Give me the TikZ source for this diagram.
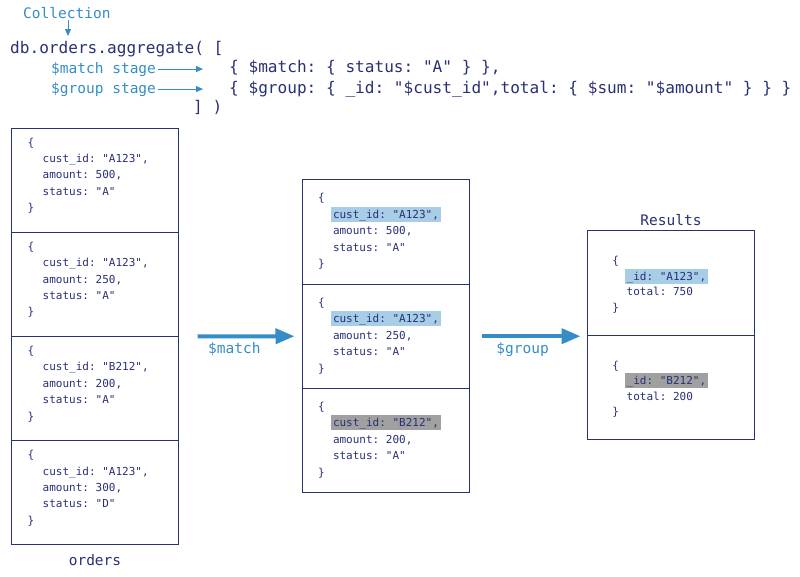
\documentclass[tikz,border=0pt]{standalone}
\usepackage{fontspec}
\setmonofont{DejaVu Sans Mono}
\usetikzlibrary{arrows.meta}
\usetikzlibrary{positioning}

\definecolor{navy}{RGB}{40,48,118}
\definecolor{mblue}{RGB}{52,141,199}
\definecolor{hlblue}{RGB}{168,205,230}
\definecolor{hlgray}{RGB}{160,160,160}

\begin{document}
\begin{tikzpicture}[x=1pt,y=-1pt,>={Triangle[length=7pt,width=6pt]},
  code/.style={font=\ttfamily\fontsize{16.1}{18}\selectfont,text=navy,inner sep=0pt,anchor=base west},
  note/.style={font=\ttfamily\fontsize{14.5}{17}\selectfont,text=mblue,inner sep=0pt,anchor=base west},
  boxtitle/.style={font=\ttfamily\fontsize{14.5}{17}\selectfont,text=navy,inner sep=0pt},
  docbox/.style={draw=navy,line width=1pt,minimum width=167pt,minimum height=104.2pt,inner sep=0pt,outer sep=0pt},
  field/.style={font=\ttfamily\fontsize{11}{13}\selectfont,text=navy,inner xsep=2pt,inner ysep=1pt,
    text height=10.5pt,text depth=2.5pt,anchor=base west},
  pointer/.style={->,draw=mblue,line width=1pt},
  stage/.style={-{Triangle[length=19pt,width=15pt]},draw=mblue,line width=4pt}]
  \useasboundingbox (0,0) rectangle (800,576);

  % the query
  \node[note] (coll) at (23,18) {Collection};
  \coordinate (collend) at (68,36);
  \node[code] (db) at (10,53) {db.orders.aggregate( [};
  \node[note] (matchlbl) at (51,73) {\$match stage};
  \node[code] (matchcode) at (229,72) {\{ \$match: \{ status: "A" \} \},};
  \node[note] (grouplbl) at (51,93) {\$group stage};
  \node[code] (groupcode) at (229,93) {\{ \$group: \{ \_id: "\$cust\_id",total: \{ \$sum: "\$amount" \} \} \}};
  \node[code] (close) at (193,112) {] )};
  \draw[pointer,shorten <=2pt] (coll.south -| collend) -- (collend);
  \draw[pointer,shorten <=2pt,shorten >=26pt] (matchlbl.east) -- (matchlbl.east -| matchcode.west);
  \draw[pointer,shorten <=2pt,shorten >=26pt] (grouplbl.east) -- (grouplbl.east -| groupcode.west);

  % orders collection
  \node[docbox] (order1) at (95,180.1) {};
  \node[docbox,below=0pt of order1] (order2) {};
  \node[docbox,below=0pt of order2] (order3) {};
  \node[docbox,below=0pt of order3] (order4) {};
  \node[boxtitle,below=9pt of order4] (orderslbl) {orders};
  \foreach \id/\amt/\st [count=\i] in {A123/500/A,A123/250/A,B212/200/A,A123/300/D}{
    \node[field] (order\i-a) at ([shift={(14,18)}]order\i.north west) {\{};
    \node[field] (order\i-b) at ([shift={(29,34.4)}]order\i.north west) {cust\_id: "\id",};
    \node[field] (order\i-c) at ([shift={(29,50.8)}]order\i.north west) {amount: \amt,};
    \node[field] (order\i-d) at ([shift={(29,67.2)}]order\i.north west) {status: "\st"};
    \node[field] (order\i-e) at ([shift={(14,83.6)}]order\i.north west) {\}};
  }

  % after $match
  \node[docbox] (match1) at (386,232) {};
  \node[docbox,below=0pt of match1] (match2) {};
  \node[docbox,below=0pt of match2] (match3) {};
  \foreach \id/\amt/\hl [count=\i] in {A123/500/hlblue,A123/250/hlblue,B212/200/hlgray}{
    \node[field] (match\i-a) at ([shift={(13.3,22)}]match\i.north west) {\{};
    \node[field,fill=\hl] (match\i-b) at ([shift={(28.3,38.5)}]match\i.north west) {cust\_id: "\id",};
    \node[field] (match\i-c) at ([shift={(28.3,55)}]match\i.north west) {amount: \amt,};
    \node[field] (match\i-d) at ([shift={(28.3,71.5)}]match\i.north west) {status: "A"};
    \node[field] (match\i-e) at ([shift={(13.3,88)}]match\i.north west) {\}};
  }

  % after $group
  \node[docbox] (result1) at (671,283) {};
  \node[docbox,below=0pt of result1] (result2) {};
  \node[boxtitle,above=4.5pt of result1] (resultslbl) {Results};
  \foreach \id/\tot/\hl [count=\i] in {A123/750/hlblue,B212/200/hlgray}{
    \node[field] (result\i-a) at ([shift={(22.7,34)}]result\i.north west) {\{};
    \node[field,fill=\hl] (result\i-b) at ([shift={(37,49.5)}]result\i.north west) {\_id: "\id",};
    \node[field] (result\i-c) at ([shift={(37,65)}]result\i.north west) {total: \tot};
    \node[field] (result\i-d) at ([shift={(22.7,80.5)}]result\i.north west) {\}};
  }

  % stages
  \draw[stage,shorten <=19pt,shorten >=8pt] (order2.south east) -- (match2.west)
    node[note,anchor=north,pos=0.45,yshift=-4pt] (matchtag) {\$match};
  \draw[stage,shorten <=12.7pt,shorten >=7pt] (match2.east) -- (match2.east -| result1.south west)
    node[note,anchor=north,pos=0.45,yshift=-4pt] (grouptag) {\$group};
\end{tikzpicture}
\end{document}
